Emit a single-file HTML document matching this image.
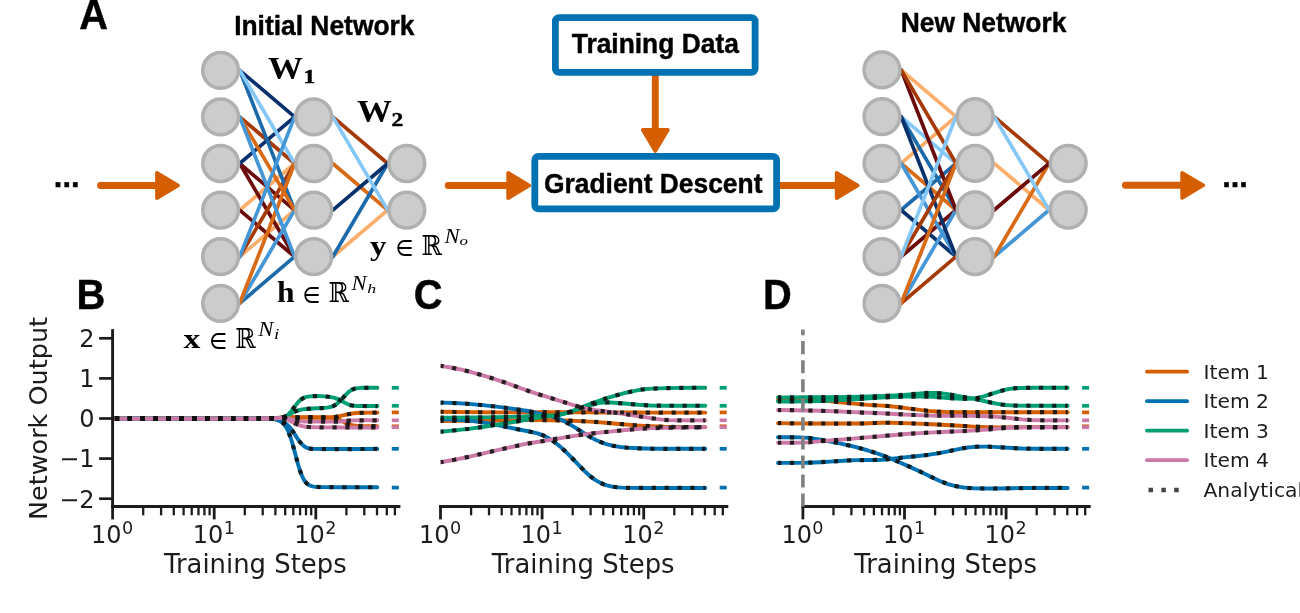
<!DOCTYPE html>
<html><head><meta charset="utf-8"><title>Figure</title>
<style>
html,body{margin:0;padding:0;background:#fff;}
svg{display:block}
.tk{font-family:"DejaVu Sans",sans-serif;font-size:24px;fill:#1c1c1c}
.lb{font-family:"DejaVu Sans",sans-serif;font-size:25.9px;fill:#1c1c1c}
.lg{font-family:"DejaVu Sans",sans-serif;font-size:20.3px;fill:#1c1c1c}
.hd{font-family:"Liberation Sans",sans-serif;font-weight:bold;font-size:26.4px;fill:#000;stroke:#000;stroke-width:0.4px}
.pn{font-family:"Liberation Sans",sans-serif;font-weight:bold;font-size:41.5px;fill:#000;stroke:#000;stroke-width:0.4px}
.mb{font-family:"Liberation Serif","DejaVu Serif",serif;font-weight:bold;fill:#000}
.mi{font-family:"Liberation Serif","DejaVu Serif",serif;font-style:italic;fill:#000}
.ms{font-family:"DejaVu Math TeX Gyre","DejaVu Serif",serif;fill:#000}
</style></head><body>
<svg width="1300" height="613" viewBox="0 0 1300 613">
<rect width="1300" height="613" fill="#fff"/>
<text transform="translate(79.3,28.7) scale(0.96,1.03)" class="pn">A</text>
<text transform="translate(76.4,308.8) scale(0.96,1.03)" class="pn">B</text>
<text transform="translate(413.7,308.9) scale(0.96,1.03)" class="pn">C</text>
<text transform="translate(762.9,308.8) scale(0.96,1.03)" class="pn">D</text>
<text transform="translate(324.3,34.5) scale(1,1.03)" class="hd" text-anchor="middle">Initial Network</text>
<text transform="translate(983.5,32.0) scale(1,1.03)" class="hd" text-anchor="middle">New Network</text>
<text transform="translate(53.85,187.1) scale(1,1.03)" class="hd" style="font-size:30.75px">...</text>
<text transform="translate(1222.15,186.9) scale(1,1.03)" class="hd" style="font-size:30.75px">...</text>
<g stroke-width="3.7" stroke-linecap="round" fill="none"><line x1="239.7" y1="210.1" x2="294.6" y2="163.5" stroke="#fdae6b"/><line x1="239.7" y1="256.7" x2="294.6" y2="210.1" stroke="#fdae6b"/><line x1="239.7" y1="163.5" x2="294.6" y2="210.1" stroke="#6b0a0a"/><line x1="239.7" y1="163.5" x2="294.6" y2="256.7" stroke="#6b0a0a"/><line x1="239.7" y1="210.1" x2="294.6" y2="256.7" stroke="#6b0a0a"/><line x1="239.7" y1="116.9" x2="294.6" y2="163.5" stroke="#a63a06"/><line x1="239.7" y1="256.7" x2="294.6" y2="163.5" stroke="#a63a06"/><line x1="239.7" y1="70.3" x2="294.6" y2="116.9" stroke="#08306b"/><line x1="239.7" y1="163.5" x2="294.6" y2="116.9" stroke="#08306b"/><line x1="239.7" y1="70.3" x2="294.6" y2="210.1" stroke="#1c6aaa"/><line x1="239.7" y1="303.3" x2="294.6" y2="256.7" stroke="#1c6aaa"/><line x1="239.7" y1="70.3" x2="294.6" y2="163.5" stroke="#85c8f8"/><line x1="239.7" y1="303.3" x2="294.6" y2="210.1" stroke="#4596d6"/><line x1="239.7" y1="116.9" x2="294.6" y2="210.1" stroke="#d96a16"/><line x1="239.7" y1="303.3" x2="294.6" y2="163.5" stroke="#d96a16"/><line x1="239.7" y1="116.9" x2="294.6" y2="256.7" stroke="#4596d6"/><line x1="239.7" y1="256.7" x2="294.6" y2="116.9" stroke="#4596d6"/><line x1="332.8" y1="256.7" x2="387.7" y2="210.1" stroke="#fdae6b"/><line x1="332.8" y1="116.9" x2="387.7" y2="163.5" stroke="#a63a06"/><line x1="332.8" y1="163.5" x2="387.7" y2="210.1" stroke="#d96a16"/><line x1="332.8" y1="256.7" x2="387.7" y2="163.5" stroke="#1c6aaa"/><line x1="332.8" y1="210.1" x2="387.7" y2="163.5" stroke="#08306b"/><line x1="332.8" y1="116.9" x2="387.7" y2="210.1" stroke="#85c8f8"/></g>
<g fill="#cccccc" stroke="#b0b0b0" stroke-width="3.5"><circle cx="220.6" cy="70.3" r="17.9"/><circle cx="220.6" cy="116.9" r="17.9"/><circle cx="220.6" cy="163.5" r="17.9"/><circle cx="220.6" cy="210.1" r="17.9"/><circle cx="220.6" cy="256.7" r="17.9"/><circle cx="220.6" cy="303.3" r="17.9"/><circle cx="313.7" cy="116.9" r="17.9"/><circle cx="313.7" cy="163.5" r="17.9"/><circle cx="313.7" cy="210.1" r="17.9"/><circle cx="313.7" cy="256.7" r="17.9"/><circle cx="406.79999999999995" cy="163.5" r="17.9"/><circle cx="406.79999999999995" cy="210.1" r="17.9"/></g>
<g stroke-width="3.7" stroke-linecap="round" fill="none"><line x1="901.1" y1="163.3" x2="956.0" y2="116.6" stroke="#fdae6b"/><line x1="901.1" y1="69.9" x2="956.0" y2="116.6" stroke="#fdae6b"/><line x1="901.1" y1="116.6" x2="956.0" y2="163.3" stroke="#85c8f8"/><line x1="901.1" y1="256.7" x2="956.0" y2="210.0" stroke="#6b0a0a"/><line x1="901.1" y1="210.0" x2="956.0" y2="163.3" stroke="#1c6aaa"/><line x1="901.1" y1="163.3" x2="956.0" y2="210.0" stroke="#d96a16"/><line x1="901.1" y1="116.6" x2="956.0" y2="210.0" stroke="#1c6aaa"/><line x1="901.1" y1="210.0" x2="956.0" y2="256.7" stroke="#08306b"/><line x1="901.1" y1="163.3" x2="956.0" y2="256.7" stroke="#4596d6"/><line x1="901.1" y1="303.4" x2="956.0" y2="210.0" stroke="#4596d6"/><line x1="901.1" y1="116.6" x2="956.0" y2="256.7" stroke="#08306b"/><line x1="901.1" y1="69.9" x2="956.0" y2="210.0" stroke="#6b0a0a"/><line x1="901.1" y1="69.9" x2="956.0" y2="163.3" stroke="#a63a06"/><line x1="901.1" y1="256.7" x2="956.0" y2="163.3" stroke="#a63a06"/><line x1="901.1" y1="303.4" x2="956.0" y2="256.7" stroke="#a63a06"/><line x1="901.1" y1="303.4" x2="956.0" y2="163.3" stroke="#d96a16"/><line x1="901.1" y1="256.7" x2="956.0" y2="116.6" stroke="#85c8f8"/><line x1="994.2" y1="163.3" x2="1049.1" y2="210.0" stroke="#fdae6b"/><line x1="994.2" y1="256.7" x2="1049.1" y2="210.0" stroke="#4596d6"/><line x1="994.2" y1="256.7" x2="1049.1" y2="163.3" stroke="#d96a16"/><line x1="994.2" y1="116.6" x2="1049.1" y2="163.3" stroke="#a63a06"/><line x1="994.2" y1="210.0" x2="1049.1" y2="163.3" stroke="#6b0a0a"/><line x1="994.2" y1="116.6" x2="1049.1" y2="210.0" stroke="#85c8f8"/></g>
<g fill="#cccccc" stroke="#b0b0b0" stroke-width="3.5"><circle cx="882.0" cy="69.9" r="17.9"/><circle cx="882.0" cy="116.6" r="17.9"/><circle cx="882.0" cy="163.3" r="17.9"/><circle cx="882.0" cy="210.0" r="17.9"/><circle cx="882.0" cy="256.7" r="17.9"/><circle cx="882.0" cy="303.4" r="17.9"/><circle cx="975.1" cy="116.6" r="17.9"/><circle cx="975.1" cy="163.3" r="17.9"/><circle cx="975.1" cy="210.0" r="17.9"/><circle cx="975.1" cy="256.7" r="17.9"/><circle cx="1068.2" cy="163.3" r="17.9"/><circle cx="1068.2" cy="210.0" r="17.9"/></g>
<line x1="100.5" y1="185.5" x2="158.1" y2="185.5" stroke="#D55E00" stroke-width="6.9" stroke-linecap="round"/>
<path d="M156.9,172.9 L178.1,185.5 L156.9,198.1 Z" fill="#D55E00" stroke="#D55E00" stroke-width="3.6" stroke-linejoin="round"/>
<line x1="448.2" y1="185.5" x2="509.3" y2="185.5" stroke="#D55E00" stroke-width="6.9" stroke-linecap="round"/>
<path d="M508.1,172.9 L529.3,185.5 L508.1,198.1 Z" fill="#D55E00" stroke="#D55E00" stroke-width="3.6" stroke-linejoin="round"/>
<line x1="780.4" y1="185.5" x2="837.8" y2="185.5" stroke="#D55E00" stroke-width="6.9" stroke-linecap="round"/>
<path d="M836.6,172.9 L857.8,185.5 L836.6,198.1 Z" fill="#D55E00" stroke="#D55E00" stroke-width="3.6" stroke-linejoin="round"/>
<line x1="1125.4" y1="185.3" x2="1183.3" y2="185.3" stroke="#D55E00" stroke-width="6.9" stroke-linecap="round"/>
<path d="M1182.1,172.7 L1203.3,185.3 L1182.1,197.9 Z" fill="#D55E00" stroke="#D55E00" stroke-width="3.6" stroke-linejoin="round"/>
<line x1="655.3" y1="72" x2="655.3" y2="131.0" stroke="#D55E00" stroke-width="6.9"/>
<path d="M642.7,129.8 L655.3,151.0 L667.9,129.8 Z" fill="#D55E00" stroke="#D55E00" stroke-width="3.6" stroke-linejoin="round"/>
<rect x="555.4" y="17.7" width="199.7" height="54.6" rx="3.6" fill="#fff" stroke="#0072B2" stroke-width="6.8"/>
<rect x="534.8" y="156.4" width="241.8" height="52.45" rx="3.6" fill="#fff" stroke="#0072B2" stroke-width="6.8"/>
<text transform="translate(655.3,52.9) scale(1,1.03)" class="hd" text-anchor="middle">Training Data</text>
<text transform="translate(653.2,192.6) scale(1,1.03)" class="hd" text-anchor="middle">Gradient Descent</text>
<text class="mb" font-size="31.2" transform="translate(267.9,78.8) scale(1.12,1)">W</text>
<text class="mb" font-size="19.5" stroke="#000" stroke-width="0.5" transform="translate(303.6,83.3) scale(1.2,1)">1</text>
<text class="mb" font-size="31.2" transform="translate(356.9,121.5) scale(1.12,1)">W</text>
<text class="mb" font-size="19.5" stroke="#000" stroke-width="0.5" transform="translate(391.6,126.0) scale(1.2,1)">2</text>
<text class="mb" font-size="27.4" transform="translate(369.9,254.6) scale(1.2,1)">y</text>
<text class="ms" font-size="25.9" transform="translate(395.5,254.6) scale(0.86,1)">∈</text>
<text class="ms" font-size="27.4" transform="translate(420.8,254.6) scale(0.9,1)">ℝ</text>
<text class="mi" font-size="20.8" transform="translate(444.5,242.5) scale(1.09,1)">N</text>
<text class="mi" font-size="13.5" transform="translate(459.4,245.3) scale(1.25,1)">o</text>
<text class="mb" font-size="29.0" transform="translate(276.9,302.0) scale(1.09,1)">h</text>
<text class="ms" font-size="25.9" transform="translate(302.5,302.0) scale(0.86,1)">∈</text>
<text class="ms" font-size="27.4" transform="translate(327.8,302.0) scale(0.9,1)">ℝ</text>
<text class="mi" font-size="20.8" transform="translate(351.5,289.9) scale(1.09,1)">N</text>
<text class="mi" font-size="13.2" transform="translate(367.2,292.7) scale(1.35,1)">h</text>
<text class="mb" font-size="28.0" transform="translate(183.6,348.1) scale(1.2,1)">x</text>
<text class="ms" font-size="25.9" transform="translate(209.2,348.1) scale(0.86,1)">∈</text>
<text class="ms" font-size="27.4" transform="translate(234.5,348.1) scale(0.9,1)">ℝ</text>
<text class="mi" font-size="20.8" transform="translate(258.2,336.0) scale(1.09,1)">N</text>
<text class="mi" font-size="14.5" transform="translate(273.9,338.8) scale(1.3,1)">i</text>
<clipPath id="cb"><rect x="112.6" y="325" width="306.6" height="185"/></clipPath>
<g clip-path="url(#cb)" fill="none" stroke-width="3.9" stroke-linecap="round" stroke-linejoin="round">
<path d="M112.6,418.55 L126.6,418.55 L140.6,418.55 L154.6,418.55 L168.6,418.55 L182.6,418.55 L196.5,418.55 L210.5,418.55 L224.5,418.55 L238.5,418.55 L252.5,418.55 L266.5,418.52 L272.5,418.42 L274.5,418.30 L282.5,417.54 L296.5,417.25 L310.5,417.15 L324.5,417.09 L332.5,416.97 L334.5,416.86 L336.5,416.64 L338.4,416.31 L348.4,414.19 L352.4,413.48 L356.4,413.02 L360.4,412.78 L374.4,412.65 L377.4,412.65" stroke="#D55E00"/>
<path d="M112.6,418.45 L126.6,418.45 L140.6,418.45 L154.6,418.45 L168.6,418.45 L182.6,418.45 L196.5,418.45 L210.5,418.45 L224.5,418.45 L238.5,418.45 L252.5,418.45 L266.5,418.43 L272.5,418.35 L274.5,418.23 L280.5,417.66 L282.5,417.52 L286.5,417.44 L300.5,417.61 L314.5,417.72 L328.5,417.85 L332.5,417.98 L334.5,418.16 L336.5,418.52 L338.4,419.15 L340.4,420.09 L344.4,422.39 L346.4,423.36 L348.4,424.12 L350.4,424.68 L352.4,425.09 L354.4,425.39 L356.4,425.62 L360.4,425.88 L374.4,426.10 L377.4,426.11" stroke="#D55E00"/>
<path d="M112.6,418.60 L126.6,418.60 L140.6,418.60 L154.6,418.60 L168.5,418.60 L182.5,418.60 L196.5,418.60 L210.5,418.60 L224.5,418.60 L238.5,418.60 L252.5,418.60 L266.5,418.54 L270.4,418.60 L272.4,418.78 L274.4,419.15 L276.4,419.68 L280.4,420.90 L282.4,421.65 L284.4,422.67 L286.4,424.04 L288.4,425.84 L290.4,428.09 L292.4,430.74 L294.4,433.70 L296.4,436.83 L298.4,439.86 L300.4,442.56 L302.4,444.79 L304.4,446.47 L306.4,447.60 L308.4,448.30 L310.4,448.69 L312.4,448.88 L326.4,449.06 L340.4,449.06 L354.4,449.04 L368.4,448.98 L377.3,448.91" stroke="#0072B2"/>
<path d="M112.6,418.65 L126.6,418.65 L140.6,418.65 L154.6,418.65 L168.5,418.65 L182.5,418.65 L196.5,418.65 L210.5,418.65 L224.5,418.65 L238.5,418.65 L252.5,418.65 L266.5,418.58 L270.4,418.63 L272.4,418.80 L274.4,419.17 L276.4,419.72 L278.4,420.41 L280.4,421.30 L282.4,422.60 L284.4,424.60 L286.4,427.57 L288.4,431.69 L290.4,437.02 L292.4,443.45 L294.4,450.71 L296.4,458.26 L298.4,465.49 L300.4,471.80 L302.4,476.86 L304.4,480.58 L306.4,483.12 L308.4,484.73 L310.4,485.73 L312.4,486.35 L314.4,486.70 L316.4,486.89 L322.4,487.15 L336.4,487.24 L350.4,487.24 L364.4,487.24 L377.3,487.24" stroke="#0072B2"/>
<path d="M112.6,418.05 L126.6,418.05 L140.6,418.05 L154.6,418.05 L168.6,418.05 L182.6,418.05 L196.5,418.05 L210.5,418.05 L224.5,418.05 L238.5,418.05 L252.5,418.05 L266.5,418.11 L274.5,418.07 L278.5,417.88 L280.5,417.71 L282.5,417.41 L284.5,416.84 L286.5,415.84 L288.5,414.29 L290.5,412.16 L292.5,409.58 L294.5,406.82 L296.5,404.14 L298.5,401.77 L300.5,399.86 L302.5,398.48 L304.5,397.54 L306.5,396.95 L308.5,396.59 L310.5,396.35 L312.5,396.19 L316.5,396.04 L320.5,396.13 L324.5,396.39 L328.5,396.78 L330.5,397.06 L332.5,397.43 L334.5,397.91 L336.5,398.53 L338.4,399.34 L340.4,400.35 L344.4,402.57 L346.4,403.57 L348.4,404.43 L350.4,405.10 L352.4,405.54 L354.4,405.77 L358.4,405.96 L372.4,406.07 L377.4,406.07" stroke="#009E73"/>
<path d="M112.6,418.15 L126.6,418.15 L140.6,418.15 L154.6,418.15 L168.6,418.15 L182.6,418.15 L196.5,418.15 L210.5,418.15 L224.5,418.15 L238.5,418.15 L252.5,418.15 L266.5,418.19 L272.5,418.18 L276.5,418.05 L280.5,417.74 L282.5,417.44 L284.5,416.92 L286.5,416.10 L288.5,415.03 L292.5,412.70 L294.5,411.69 L296.5,410.87 L298.5,410.25 L300.5,409.78 L302.5,409.43 L306.5,408.96 L312.5,408.55 L322.5,408.03 L326.5,407.67 L328.5,407.39 L330.5,407.00 L332.5,406.40 L334.5,405.51 L336.5,404.23 L338.4,402.54 L340.4,400.57 L346.4,394.15 L348.4,392.24 L350.4,390.66 L352.4,389.48 L354.4,388.73 L356.4,388.32 L358.4,388.08 L362.4,387.82 L376.4,387.73 L377.4,387.73" stroke="#009E73"/>
<path d="M112.6,418.45 L126.6,418.45 L140.6,418.45 L154.6,418.45 L168.6,418.45 L182.6,418.45 L196.5,418.45 L210.5,418.45 L224.5,418.45 L238.5,418.45 L252.5,418.45 L266.5,418.43 L272.5,418.36 L276.5,418.13 L280.5,417.83 L282.5,417.76 L284.5,417.82 L286.5,418.07 L288.5,418.49 L294.5,420.10 L296.5,420.51 L298.5,420.85 L302.5,421.34 L304.5,421.50 L308.5,421.64 L322.5,421.66 L336.5,421.65 L338.4,421.60 L340.4,421.49 L348.4,420.65 L352.4,420.39 L366.4,420.28 L377.4,420.28" stroke="#CC79A7"/>
<path d="M112.6,418.60 L126.6,418.60 L140.6,418.60 L154.6,418.60 L168.6,418.60 L182.6,418.60 L196.5,418.60 L210.5,418.60 L224.5,418.60 L238.5,418.60 L252.5,418.60 L266.5,418.56 L272.5,418.48 L280.5,418.11 L282.5,418.14 L284.5,418.42 L286.5,419.08 L288.5,420.06 L292.5,422.28 L294.5,423.29 L296.5,424.17 L298.5,424.92 L300.5,425.57 L302.5,426.11 L304.5,426.52 L306.5,426.81 L308.5,426.99 L318.5,427.33 L332.5,427.42 L346.4,427.46 L360.4,427.48 L374.4,427.49 L377.4,427.49" stroke="#CC79A7"/>
</g>
<g clip-path="url(#cb)" fill="none" stroke="#111" stroke-opacity="0.88" stroke-width="4.2" stroke-dasharray="4.2 8.7" stroke-dashoffset="-2.3">
<path d="M112.6,418.55 L126.6,418.55 L140.6,418.55 L154.6,418.55 L168.6,418.55 L182.6,418.55 L196.5,418.55 L210.5,418.55 L224.5,418.55 L238.5,418.55 L252.5,418.55 L266.5,418.52 L272.5,418.42 L274.5,418.30 L282.5,417.54 L296.5,417.25 L310.5,417.15 L324.5,417.09 L332.5,416.97 L334.5,416.86 L336.5,416.64 L338.4,416.31 L348.4,414.19 L352.4,413.48 L356.4,413.02 L360.4,412.78 L374.4,412.65 L377.4,412.65"/>
<path d="M112.6,418.45 L126.6,418.45 L140.6,418.45 L154.6,418.45 L168.6,418.45 L182.6,418.45 L196.5,418.45 L210.5,418.45 L224.5,418.45 L238.5,418.45 L252.5,418.45 L266.5,418.43 L272.5,418.35 L274.5,418.23 L280.5,417.66 L282.5,417.52 L286.5,417.44 L300.5,417.61 L314.5,417.72 L328.5,417.85 L332.5,417.98 L334.5,418.16 L336.5,418.52 L338.4,419.15 L340.4,420.09 L344.4,422.39 L346.4,423.36 L348.4,424.12 L350.4,424.68 L352.4,425.09 L354.4,425.39 L356.4,425.62 L360.4,425.88 L374.4,426.10 L377.4,426.11"/>
<path d="M112.6,418.60 L126.6,418.60 L140.6,418.60 L154.6,418.60 L168.5,418.60 L182.5,418.60 L196.5,418.60 L210.5,418.60 L224.5,418.60 L238.5,418.60 L252.5,418.60 L266.5,418.54 L270.4,418.60 L272.4,418.78 L274.4,419.15 L276.4,419.68 L280.4,420.90 L282.4,421.65 L284.4,422.67 L286.4,424.04 L288.4,425.84 L290.4,428.09 L292.4,430.74 L294.4,433.70 L296.4,436.83 L298.4,439.86 L300.4,442.56 L302.4,444.79 L304.4,446.47 L306.4,447.60 L308.4,448.30 L310.4,448.69 L312.4,448.88 L326.4,449.06 L340.4,449.06 L354.4,449.04 L368.4,448.98 L377.3,448.91"/>
<path d="M112.6,418.65 L126.6,418.65 L140.6,418.65 L154.6,418.65 L168.5,418.65 L182.5,418.65 L196.5,418.65 L210.5,418.65 L224.5,418.65 L238.5,418.65 L252.5,418.65 L266.5,418.58 L270.4,418.63 L272.4,418.80 L274.4,419.17 L276.4,419.72 L278.4,420.41 L280.4,421.30 L282.4,422.60 L284.4,424.60 L286.4,427.57 L288.4,431.69 L290.4,437.02 L292.4,443.45 L294.4,450.71 L296.4,458.26 L298.4,465.49 L300.4,471.80 L302.4,476.86 L304.4,480.58 L306.4,483.12 L308.4,484.73 L310.4,485.73 L312.4,486.35 L314.4,486.70 L316.4,486.89 L322.4,487.15 L336.4,487.24 L350.4,487.24 L364.4,487.24 L377.3,487.24"/>
<path d="M112.6,418.05 L126.6,418.05 L140.6,418.05 L154.6,418.05 L168.6,418.05 L182.6,418.05 L196.5,418.05 L210.5,418.05 L224.5,418.05 L238.5,418.05 L252.5,418.05 L266.5,418.11 L274.5,418.07 L278.5,417.88 L280.5,417.71 L282.5,417.41 L284.5,416.84 L286.5,415.84 L288.5,414.29 L290.5,412.16 L292.5,409.58 L294.5,406.82 L296.5,404.14 L298.5,401.77 L300.5,399.86 L302.5,398.48 L304.5,397.54 L306.5,396.95 L308.5,396.59 L310.5,396.35 L312.5,396.19 L316.5,396.04 L320.5,396.13 L324.5,396.39 L328.5,396.78 L330.5,397.06 L332.5,397.43 L334.5,397.91 L336.5,398.53 L338.4,399.34 L340.4,400.35 L344.4,402.57 L346.4,403.57 L348.4,404.43 L350.4,405.10 L352.4,405.54 L354.4,405.77 L358.4,405.96 L372.4,406.07 L377.4,406.07"/>
<path d="M112.6,418.15 L126.6,418.15 L140.6,418.15 L154.6,418.15 L168.6,418.15 L182.6,418.15 L196.5,418.15 L210.5,418.15 L224.5,418.15 L238.5,418.15 L252.5,418.15 L266.5,418.19 L272.5,418.18 L276.5,418.05 L280.5,417.74 L282.5,417.44 L284.5,416.92 L286.5,416.10 L288.5,415.03 L292.5,412.70 L294.5,411.69 L296.5,410.87 L298.5,410.25 L300.5,409.78 L302.5,409.43 L306.5,408.96 L312.5,408.55 L322.5,408.03 L326.5,407.67 L328.5,407.39 L330.5,407.00 L332.5,406.40 L334.5,405.51 L336.5,404.23 L338.4,402.54 L340.4,400.57 L346.4,394.15 L348.4,392.24 L350.4,390.66 L352.4,389.48 L354.4,388.73 L356.4,388.32 L358.4,388.08 L362.4,387.82 L376.4,387.73 L377.4,387.73"/>
<path d="M112.6,418.45 L126.6,418.45 L140.6,418.45 L154.6,418.45 L168.6,418.45 L182.6,418.45 L196.5,418.45 L210.5,418.45 L224.5,418.45 L238.5,418.45 L252.5,418.45 L266.5,418.43 L272.5,418.36 L276.5,418.13 L280.5,417.83 L282.5,417.76 L284.5,417.82 L286.5,418.07 L288.5,418.49 L294.5,420.10 L296.5,420.51 L298.5,420.85 L302.5,421.34 L304.5,421.50 L308.5,421.64 L322.5,421.66 L336.5,421.65 L338.4,421.60 L340.4,421.49 L348.4,420.65 L352.4,420.39 L366.4,420.28 L377.4,420.28"/>
<path d="M112.6,418.60 L126.6,418.60 L140.6,418.60 L154.6,418.60 L168.6,418.60 L182.6,418.60 L196.5,418.60 L210.5,418.60 L224.5,418.60 L238.5,418.60 L252.5,418.60 L266.5,418.56 L272.5,418.48 L280.5,418.11 L282.5,418.14 L284.5,418.42 L286.5,419.08 L288.5,420.06 L292.5,422.28 L294.5,423.29 L296.5,424.17 L298.5,424.92 L300.5,425.57 L302.5,426.11 L304.5,426.52 L306.5,426.81 L308.5,426.99 L318.5,427.33 L332.5,427.42 L346.4,427.46 L360.4,427.48 L374.4,427.49 L377.4,427.49"/>
</g>
<g stroke-width="3.7">
<line x1="391.8" y1="412.4" x2="398.8" y2="412.4" stroke="#D55E00"/>
<line x1="391.8" y1="426.3" x2="398.8" y2="426.3" stroke="#D55E00"/>
<line x1="391.8" y1="448.8" x2="398.8" y2="448.8" stroke="#0072B2"/>
<line x1="391.8" y1="487.6" x2="398.8" y2="487.6" stroke="#0072B2"/>
<line x1="391.8" y1="387.8" x2="398.8" y2="387.8" stroke="#009E73"/>
<line x1="391.8" y1="405.8" x2="398.8" y2="405.8" stroke="#009E73"/>
<line x1="391.8" y1="420.3" x2="398.8" y2="420.3" stroke="#CC79A7"/>
<line x1="391.8" y1="427.2" x2="398.8" y2="427.2" stroke="#CC79A7"/>
</g>
<g stroke="#1c1c1c" fill="none">
<line x1="111.15" y1="506.5" x2="400.4" y2="506.5" stroke-width="2.9"/>
<line x1="112.6" y1="506.5" x2="112.6" y2="519.4" stroke-width="2.8"/>
<line x1="214.2" y1="506.5" x2="214.2" y2="519.4" stroke-width="2.8"/>
<line x1="315.8" y1="506.5" x2="315.8" y2="519.4" stroke-width="2.8"/>
<g stroke-width="2.3"><line x1="143.2" y1="506.5" x2="143.2" y2="515.3"/><line x1="161.1" y1="506.5" x2="161.1" y2="515.3"/><line x1="173.8" y1="506.5" x2="173.8" y2="515.3"/><line x1="183.6" y1="506.5" x2="183.6" y2="515.3"/><line x1="191.7" y1="506.5" x2="191.7" y2="515.3"/><line x1="198.5" y1="506.5" x2="198.5" y2="515.3"/><line x1="204.4" y1="506.5" x2="204.4" y2="515.3"/><line x1="209.6" y1="506.5" x2="209.6" y2="515.3"/><line x1="244.8" y1="506.5" x2="244.8" y2="515.3"/><line x1="262.7" y1="506.5" x2="262.7" y2="515.3"/><line x1="275.4" y1="506.5" x2="275.4" y2="515.3"/><line x1="285.2" y1="506.5" x2="285.2" y2="515.3"/><line x1="293.3" y1="506.5" x2="293.3" y2="515.3"/><line x1="300.1" y1="506.5" x2="300.1" y2="515.3"/><line x1="306.0" y1="506.5" x2="306.0" y2="515.3"/><line x1="311.2" y1="506.5" x2="311.2" y2="515.3"/><line x1="346.4" y1="506.5" x2="346.4" y2="515.3"/><line x1="364.3" y1="506.5" x2="364.3" y2="515.3"/><line x1="377.0" y1="506.5" x2="377.0" y2="515.3"/><line x1="386.8" y1="506.5" x2="386.8" y2="515.3"/><line x1="394.9" y1="506.5" x2="394.9" y2="515.3"/></g>
<line x1="112.6" y1="329.1" x2="112.6" y2="507.9" stroke-width="2.9"/>
<line x1="99.1" y1="338.3" x2="112.6" y2="338.3" stroke-width="2.7"/>
<line x1="99.1" y1="378.4" x2="112.6" y2="378.4" stroke-width="2.7"/>
<line x1="99.1" y1="418.5" x2="112.6" y2="418.5" stroke-width="2.7"/>
<line x1="99.1" y1="458.6" x2="112.6" y2="458.6" stroke-width="2.7"/>
<line x1="99.1" y1="498.7" x2="112.6" y2="498.7" stroke-width="2.7"/>
</g>
<text x="91.1" y="542.7" class="tk">10<tspan dy="-9.0" dx="0.4" font-size="17.6">0</tspan></text>
<text x="192.7" y="542.7" class="tk">10<tspan dy="-9.0" dx="0.4" font-size="17.6">1</tspan></text>
<text x="294.3" y="542.7" class="tk">10<tspan dy="-9.0" dx="0.4" font-size="17.6">2</tspan></text>
<text x="255.3" y="572.6" class="lb" text-anchor="middle">Training Steps</text>
<text x="94.6" y="347.1" class="tk" text-anchor="end">2</text>
<text x="94.6" y="387.2" class="tk" text-anchor="end">1</text>
<text x="94.6" y="427.3" class="tk" text-anchor="end">0</text>
<text x="94.6" y="467.4" class="tk" text-anchor="end">−1</text>
<text x="94.6" y="507.5" class="tk" text-anchor="end">−2</text>
<text transform="translate(46.5,418.5) rotate(-90)" class="lb" style="font-size:25.5px" text-anchor="middle">Network Output</text>
<clipPath id="cc"><rect x="440.5" y="325" width="306.6" height="185"/></clipPath>
<g clip-path="url(#cc)" fill="none" stroke-width="3.9" stroke-linecap="round" stroke-linejoin="round">
<path d="M440.5,411.77 L454.5,411.99 L468.5,412.16 L482.5,412.27 L496.4,412.33 L510.4,412.35 L524.4,412.30 L538.4,412.21 L552.4,412.22 L566.4,412.26 L580.4,412.32 L594.4,412.38 L608.4,412.43 L622.4,412.49 L636.3,412.54 L650.3,412.58 L664.3,412.59 L678.3,412.59 L692.3,412.59 L705.3,412.59" stroke="#D55E00"/>
<path d="M440.5,420.97 L454.5,420.89 L468.5,420.80 L482.5,420.68 L496.4,420.55 L510.4,420.35 L524.4,420.15 L538.4,420.05 L552.4,420.18 L566.4,420.56 L580.4,421.09 L594.4,421.91 L608.4,422.97 L622.4,424.20 L636.3,425.36 L650.3,426.16 L664.3,426.81 L678.3,427.07 L692.3,427.08 L705.3,427.08" stroke="#D55E00"/>
<path d="M440.5,402.59 L454.5,403.06 L468.5,403.87 L482.5,405.13 L496.4,406.68 L510.4,408.45 L522.4,410.09 L526.4,410.74 L530.4,411.52 L542.4,414.43 L550.4,416.18 L552.4,416.67 L554.4,417.23 L556.4,417.87 L558.4,418.60 L560.4,419.43 L562.4,420.34 L564.4,421.35 L568.4,423.55 L572.4,425.93 L584.4,433.47 L588.4,435.88 L592.4,438.13 L594.4,439.17 L596.4,440.15 L598.4,441.07 L600.4,441.92 L602.4,442.69 L604.4,443.40 L606.4,444.04 L608.4,444.62 L612.4,445.60 L616.4,446.36 L620.4,446.96 L626.3,447.59 L638.3,448.31 L652.3,448.73 L666.3,448.80 L680.3,448.81 L694.3,448.81 L705.3,448.81" stroke="#0072B2"/>
<path d="M440.5,419.25 L452.5,419.57 L464.5,420.27 L472.5,421.03 L480.5,422.08 L488.4,423.40 L502.4,426.21 L516.4,429.03 L530.4,431.74 L534.4,432.61 L536.4,433.12 L538.4,433.70 L540.4,434.36 L542.4,435.12 L544.4,435.99 L546.4,436.97 L548.4,438.06 L550.4,439.26 L552.4,440.57 L554.4,441.99 L556.4,443.52 L558.4,445.14 L560.4,446.84 L562.4,448.62 L566.4,452.36 L570.4,456.31 L582.4,468.83 L584.4,470.84 L586.4,472.77 L588.4,474.60 L590.4,476.31 L592.4,477.89 L594.4,479.34 L596.4,480.65 L598.4,481.82 L600.4,482.85 L602.4,483.75 L604.4,484.53 L606.4,485.20 L608.4,485.76 L610.4,486.23 L612.4,486.62 L614.4,486.94 L618.4,487.39 L622.4,487.67 L630.3,487.92 L644.3,487.96 L658.3,487.96 L672.3,487.96 L686.3,487.96 L700.3,487.96 L705.3,487.96" stroke="#0072B2"/>
<path d="M440.5,431.73 L454.5,430.43 L468.5,428.89 L482.5,427.02 L496.4,424.74 L510.4,422.51 L520.4,420.93 L534.4,418.23 L538.4,417.54 L544.4,416.77 L552.4,415.90 L556.4,415.32 L560.4,414.53 L564.4,413.53 L568.4,412.34 L572.4,410.98 L578.4,408.69 L590.4,403.90 L600.4,400.27 L608.4,397.64 L616.4,395.27 L624.4,393.17 L632.3,391.31 L638.3,390.11 L642.3,389.47 L646.3,389.01 L652.3,388.60 L666.3,388.17 L680.3,387.91 L694.3,387.77 L705.3,387.73" stroke="#009E73"/>
<path d="M440.5,417.64 L454.5,417.61 L468.5,417.52 L482.5,417.38 L496.4,417.20 L510.4,416.88 L524.4,416.35 L536.4,415.74 L550.4,415.56 L554.4,415.38 L556.4,415.19 L558.4,414.92 L560.4,414.57 L562.4,414.13 L566.4,413.05 L572.4,411.11 L584.4,406.92 L588.4,405.65 L592.4,404.51 L596.4,403.55 L598.4,403.16 L600.4,402.85 L602.4,402.62 L604.4,402.47 L606.4,402.39 L610.4,402.45 L624.4,403.55 L638.3,404.75 L650.3,405.47 L664.3,405.73 L678.3,405.74 L692.3,405.74 L705.3,405.74" stroke="#009E73"/>
<path d="M440.5,365.80 L450.5,367.47 L460.5,369.47 L468.5,371.35 L476.5,373.51 L490.4,377.74 L504.4,382.30 L518.4,387.29 L528.4,390.94 L536.4,393.54 L550.4,397.86 L564.4,402.30 L576.4,406.00 L582.4,407.63 L586.4,408.56 L590.4,409.34 L596.4,410.28 L610.4,412.00 L624.4,413.98 L638.3,416.18 L652.3,418.31 L660.3,419.41 L664.3,419.85 L668.3,420.16 L674.3,420.37 L688.3,420.42 L702.3,420.42 L705.3,420.42" stroke="#CC79A7"/>
<path d="M440.5,462.27 L454.5,459.73 L468.5,456.86 L482.5,453.64 L496.4,450.40 L510.4,447.25 L524.4,444.20 L532.4,442.71 L546.4,440.52 L560.4,438.17 L574.4,435.88 L586.4,434.12 L600.4,432.50 L614.4,431.15 L628.3,429.78 L640.3,428.72 L652.3,428.13 L666.3,427.76 L680.3,427.49 L694.3,427.32 L705.3,427.28" stroke="#CC79A7"/>
</g>
<g clip-path="url(#cc)" fill="none" stroke="#111" stroke-opacity="0.88" stroke-width="4.2" stroke-dasharray="4.2 8.7" stroke-dashoffset="1.1">
<path d="M440.5,411.77 L454.5,411.99 L468.5,412.16 L482.5,412.27 L496.4,412.33 L510.4,412.35 L524.4,412.30 L538.4,412.21 L552.4,412.22 L566.4,412.26 L580.4,412.32 L594.4,412.38 L608.4,412.43 L622.4,412.49 L636.3,412.54 L650.3,412.58 L664.3,412.59 L678.3,412.59 L692.3,412.59 L705.3,412.59"/>
<path d="M440.5,420.97 L454.5,420.89 L468.5,420.80 L482.5,420.68 L496.4,420.55 L510.4,420.35 L524.4,420.15 L538.4,420.05 L552.4,420.18 L566.4,420.56 L580.4,421.09 L594.4,421.91 L608.4,422.97 L622.4,424.20 L636.3,425.36 L650.3,426.16 L664.3,426.81 L678.3,427.07 L692.3,427.08 L705.3,427.08"/>
<path d="M440.5,402.59 L454.5,403.06 L468.5,403.87 L482.5,405.13 L496.4,406.68 L510.4,408.45 L522.4,410.09 L526.4,410.74 L530.4,411.52 L542.4,414.43 L550.4,416.18 L552.4,416.67 L554.4,417.23 L556.4,417.87 L558.4,418.60 L560.4,419.43 L562.4,420.34 L564.4,421.35 L568.4,423.55 L572.4,425.93 L584.4,433.47 L588.4,435.88 L592.4,438.13 L594.4,439.17 L596.4,440.15 L598.4,441.07 L600.4,441.92 L602.4,442.69 L604.4,443.40 L606.4,444.04 L608.4,444.62 L612.4,445.60 L616.4,446.36 L620.4,446.96 L626.3,447.59 L638.3,448.31 L652.3,448.73 L666.3,448.80 L680.3,448.81 L694.3,448.81 L705.3,448.81"/>
<path d="M440.5,419.25 L452.5,419.57 L464.5,420.27 L472.5,421.03 L480.5,422.08 L488.4,423.40 L502.4,426.21 L516.4,429.03 L530.4,431.74 L534.4,432.61 L536.4,433.12 L538.4,433.70 L540.4,434.36 L542.4,435.12 L544.4,435.99 L546.4,436.97 L548.4,438.06 L550.4,439.26 L552.4,440.57 L554.4,441.99 L556.4,443.52 L558.4,445.14 L560.4,446.84 L562.4,448.62 L566.4,452.36 L570.4,456.31 L582.4,468.83 L584.4,470.84 L586.4,472.77 L588.4,474.60 L590.4,476.31 L592.4,477.89 L594.4,479.34 L596.4,480.65 L598.4,481.82 L600.4,482.85 L602.4,483.75 L604.4,484.53 L606.4,485.20 L608.4,485.76 L610.4,486.23 L612.4,486.62 L614.4,486.94 L618.4,487.39 L622.4,487.67 L630.3,487.92 L644.3,487.96 L658.3,487.96 L672.3,487.96 L686.3,487.96 L700.3,487.96 L705.3,487.96"/>
<path d="M440.5,431.73 L454.5,430.43 L468.5,428.89 L482.5,427.02 L496.4,424.74 L510.4,422.51 L520.4,420.93 L534.4,418.23 L538.4,417.54 L544.4,416.77 L552.4,415.90 L556.4,415.32 L560.4,414.53 L564.4,413.53 L568.4,412.34 L572.4,410.98 L578.4,408.69 L590.4,403.90 L600.4,400.27 L608.4,397.64 L616.4,395.27 L624.4,393.17 L632.3,391.31 L638.3,390.11 L642.3,389.47 L646.3,389.01 L652.3,388.60 L666.3,388.17 L680.3,387.91 L694.3,387.77 L705.3,387.73"/>
<path d="M440.5,417.64 L454.5,417.61 L468.5,417.52 L482.5,417.38 L496.4,417.20 L510.4,416.88 L524.4,416.35 L536.4,415.74 L550.4,415.56 L554.4,415.38 L556.4,415.19 L558.4,414.92 L560.4,414.57 L562.4,414.13 L566.4,413.05 L572.4,411.11 L584.4,406.92 L588.4,405.65 L592.4,404.51 L596.4,403.55 L598.4,403.16 L600.4,402.85 L602.4,402.62 L604.4,402.47 L606.4,402.39 L610.4,402.45 L624.4,403.55 L638.3,404.75 L650.3,405.47 L664.3,405.73 L678.3,405.74 L692.3,405.74 L705.3,405.74"/>
<path d="M440.5,365.80 L450.5,367.47 L460.5,369.47 L468.5,371.35 L476.5,373.51 L490.4,377.74 L504.4,382.30 L518.4,387.29 L528.4,390.94 L536.4,393.54 L550.4,397.86 L564.4,402.30 L576.4,406.00 L582.4,407.63 L586.4,408.56 L590.4,409.34 L596.4,410.28 L610.4,412.00 L624.4,413.98 L638.3,416.18 L652.3,418.31 L660.3,419.41 L664.3,419.85 L668.3,420.16 L674.3,420.37 L688.3,420.42 L702.3,420.42 L705.3,420.42"/>
<path d="M440.5,462.27 L454.5,459.73 L468.5,456.86 L482.5,453.64 L496.4,450.40 L510.4,447.25 L524.4,444.20 L532.4,442.71 L546.4,440.52 L560.4,438.17 L574.4,435.88 L586.4,434.12 L600.4,432.50 L614.4,431.15 L628.3,429.78 L640.3,428.72 L652.3,428.13 L666.3,427.76 L680.3,427.49 L694.3,427.32 L705.3,427.28"/>
</g>
<g stroke-width="3.7">
<line x1="719.7" y1="412.4" x2="726.7" y2="412.4" stroke="#D55E00"/>
<line x1="719.7" y1="426.3" x2="726.7" y2="426.3" stroke="#D55E00"/>
<line x1="719.7" y1="448.8" x2="726.7" y2="448.8" stroke="#0072B2"/>
<line x1="719.7" y1="487.6" x2="726.7" y2="487.6" stroke="#0072B2"/>
<line x1="719.7" y1="387.8" x2="726.7" y2="387.8" stroke="#009E73"/>
<line x1="719.7" y1="405.8" x2="726.7" y2="405.8" stroke="#009E73"/>
<line x1="719.7" y1="420.3" x2="726.7" y2="420.3" stroke="#CC79A7"/>
<line x1="719.7" y1="427.2" x2="726.7" y2="427.2" stroke="#CC79A7"/>
</g>
<g stroke="#1c1c1c" fill="none">
<line x1="439.05" y1="506.5" x2="728.3" y2="506.5" stroke-width="2.9"/>
<line x1="440.5" y1="506.5" x2="440.5" y2="519.4" stroke-width="2.8"/>
<line x1="542.1" y1="506.5" x2="542.1" y2="519.4" stroke-width="2.8"/>
<line x1="643.7" y1="506.5" x2="643.7" y2="519.4" stroke-width="2.8"/>
<g stroke-width="2.3"><line x1="471.1" y1="506.5" x2="471.1" y2="515.3"/><line x1="489.0" y1="506.5" x2="489.0" y2="515.3"/><line x1="501.7" y1="506.5" x2="501.7" y2="515.3"/><line x1="511.5" y1="506.5" x2="511.5" y2="515.3"/><line x1="519.6" y1="506.5" x2="519.6" y2="515.3"/><line x1="526.4" y1="506.5" x2="526.4" y2="515.3"/><line x1="532.3" y1="506.5" x2="532.3" y2="515.3"/><line x1="537.5" y1="506.5" x2="537.5" y2="515.3"/><line x1="572.7" y1="506.5" x2="572.7" y2="515.3"/><line x1="590.6" y1="506.5" x2="590.6" y2="515.3"/><line x1="603.3" y1="506.5" x2="603.3" y2="515.3"/><line x1="613.1" y1="506.5" x2="613.1" y2="515.3"/><line x1="621.2" y1="506.5" x2="621.2" y2="515.3"/><line x1="628.0" y1="506.5" x2="628.0" y2="515.3"/><line x1="633.9" y1="506.5" x2="633.9" y2="515.3"/><line x1="639.1" y1="506.5" x2="639.1" y2="515.3"/><line x1="674.3" y1="506.5" x2="674.3" y2="515.3"/><line x1="692.2" y1="506.5" x2="692.2" y2="515.3"/><line x1="704.9" y1="506.5" x2="704.9" y2="515.3"/><line x1="714.7" y1="506.5" x2="714.7" y2="515.3"/><line x1="722.8" y1="506.5" x2="722.8" y2="515.3"/></g>
</g>
<text x="419.0" y="542.7" class="tk">10<tspan dy="-9.0" dx="0.4" font-size="17.6">0</tspan></text>
<text x="520.6" y="542.7" class="tk">10<tspan dy="-9.0" dx="0.4" font-size="17.6">1</tspan></text>
<text x="622.2" y="542.7" class="tk">10<tspan dy="-9.0" dx="0.4" font-size="17.6">2</tspan></text>
<text x="583.2" y="572.6" class="lb" text-anchor="middle">Training Steps</text>
<clipPath id="cd"><rect x="770" y="325" width="339.5" height="185"/></clipPath>
<g clip-path="url(#cd)" fill="none" stroke-width="3.9" stroke-linecap="round" stroke-linejoin="round">
<path d="M778.0,399.69 L792.0,399.77 L806.0,399.98 L818.0,400.36 L826.0,400.91 L840.0,402.32 L853.9,403.64 L867.9,404.88 L881.9,405.62 L887.9,406.02 L901.9,407.61 L915.9,409.41 L927.9,410.82 L935.9,411.51 L945.8,411.97 L959.8,412.18 L973.8,412.20 L987.8,412.20 L1001.8,412.20 L1015.8,412.20 L1029.8,412.20 L1043.7,412.20 L1057.7,412.20 L1067.7,412.20" stroke="#D55E00"/>
<path d="M778.0,423.17 L792.0,423.33 L806.0,423.43 L820.0,423.50 L834.0,423.54 L848.0,423.56 L861.9,423.51 L875.9,422.98 L881.9,422.77 L889.9,422.77 L903.9,423.17 L917.9,423.66 L931.9,424.23 L945.8,424.95 L959.8,425.81 L973.8,426.58 L987.8,427.21 L999.8,427.38 L1013.8,427.26 L1027.8,427.17 L1041.7,427.12 L1055.7,427.09 L1067.7,427.08" stroke="#D55E00"/>
<path d="M778.0,437.27 L792.0,437.28 L800.0,437.40 L804.0,437.58 L808.0,437.91 L812.0,438.38 L822.0,439.98 L836.0,442.65 L850.0,445.72 L859.9,448.23 L867.9,450.50 L875.9,453.02 L881.9,455.10 L887.9,457.38 L895.9,460.70 L909.9,466.86 L919.9,471.42 L933.9,478.20 L939.9,480.93 L943.9,482.57 L947.8,484.01 L951.8,485.21 L955.8,486.18 L959.8,486.94 L963.8,487.51 L967.8,487.92 L973.8,488.30 L983.8,488.52 L997.8,488.46 L1011.8,488.21 L1025.8,488.00 L1039.8,487.96 L1053.7,487.96 L1067.7,487.96" stroke="#0072B2"/>
<path d="M778.0,462.92 L792.0,462.91 L806.0,462.80 L820.0,462.24 L834.0,461.37 L848.0,460.44 L855.9,460.12 L869.9,460.06 L877.9,459.96 L881.9,459.77 L887.9,459.25 L901.9,457.66 L915.9,456.21 L927.9,454.88 L935.9,453.69 L945.8,451.81 L959.8,448.84 L963.8,448.11 L967.8,447.52 L971.8,447.07 L975.8,446.77 L979.8,446.61 L985.8,446.59 L993.8,446.89 L1007.8,447.74 L1021.8,448.50 L1035.8,448.79 L1049.7,448.81 L1063.7,448.81 L1067.7,448.81" stroke="#0072B2"/>
<path d="M778.0,397.33 L792.0,397.33 L806.0,397.32 L820.0,397.22 L834.0,397.08 L848.0,396.90 L861.9,396.65 L875.9,396.26 L889.9,395.70 L903.9,394.89 L917.9,393.63 L923.9,393.13 L927.9,392.93 L931.9,392.88 L935.9,392.98 L939.9,393.23 L943.9,393.63 L947.8,394.19 L961.8,396.61 L971.8,398.33 L977.8,399.55 L991.8,402.73 L997.8,403.88 L1001.8,404.49 L1005.8,404.97 L1009.8,405.31 L1015.8,405.60 L1029.8,405.73 L1043.7,405.74 L1057.7,405.74 L1067.7,405.74" stroke="#009E73"/>
<path d="M778.0,401.44 L792.0,401.44 L806.0,401.37 L820.0,401.00 L834.0,400.42 L848.0,399.69 L861.9,398.79 L875.9,397.81 L889.9,397.08 L903.9,396.64 L917.9,396.55 L927.9,396.66 L933.9,396.90 L947.8,398.02 L955.8,398.59 L961.8,398.79 L967.8,398.77 L971.8,398.56 L973.8,398.37 L975.8,398.10 L977.8,397.76 L979.8,397.34 L983.8,396.30 L997.8,391.86 L1001.8,390.68 L1005.8,389.69 L1007.8,389.28 L1011.8,388.63 L1015.8,388.21 L1019.8,387.96 L1033.8,387.73 L1047.7,387.73 L1061.7,387.73 L1067.7,387.73" stroke="#009E73"/>
<path d="M778.0,410.07 L792.0,410.19 L806.0,410.45 L820.0,410.80 L834.0,411.26 L848.0,411.91 L861.9,412.53 L875.9,413.04 L889.9,413.70 L903.9,414.46 L917.9,415.11 L931.9,415.58 L945.8,415.71 L959.8,415.72 L973.8,415.84 L987.8,416.29 L997.8,416.87 L1011.8,418.31 L1021.8,419.37 L1029.8,419.93 L1043.7,420.34 L1057.7,420.42 L1067.7,420.42" stroke="#CC79A7"/>
<path d="M778.0,442.75 L792.0,442.75 L802.0,442.62 L808.0,442.34 L822.0,441.17 L836.0,440.01 L850.0,438.83 L863.9,437.62 L877.9,436.44 L891.9,435.20 L905.9,434.03 L919.9,433.13 L933.9,432.41 L947.8,431.75 L961.8,431.10 L975.8,430.34 L989.8,429.40 L1003.8,428.13 L1009.8,427.70 L1017.8,427.44 L1031.8,427.34 L1045.7,427.29 L1059.7,427.28 L1067.7,427.27" stroke="#CC79A7"/>
</g>
<clipPath id="cda"><rect x="770" y="325" width="32.9" height="185"/></clipPath>
<clipPath id="cdb"><rect x="802.9" y="325" width="306.6" height="185"/></clipPath>
<g clip-path="url(#cda)" fill="none" stroke="#111" stroke-opacity="0.88" stroke-width="4.2" stroke-dasharray="4.2 8.7" stroke-dashoffset="1.0">
<path d="M778.0,399.69 L792.0,399.77 L806.0,399.98 L818.0,400.36 L826.0,400.91 L840.0,402.32 L853.9,403.64 L867.9,404.88 L881.9,405.62 L887.9,406.02 L901.9,407.61 L915.9,409.41 L927.9,410.82 L935.9,411.51 L945.8,411.97 L959.8,412.18 L973.8,412.20 L987.8,412.20 L1001.8,412.20 L1015.8,412.20 L1029.8,412.20 L1043.7,412.20 L1057.7,412.20 L1067.7,412.20"/>
<path d="M778.0,423.17 L792.0,423.33 L806.0,423.43 L820.0,423.50 L834.0,423.54 L848.0,423.56 L861.9,423.51 L875.9,422.98 L881.9,422.77 L889.9,422.77 L903.9,423.17 L917.9,423.66 L931.9,424.23 L945.8,424.95 L959.8,425.81 L973.8,426.58 L987.8,427.21 L999.8,427.38 L1013.8,427.26 L1027.8,427.17 L1041.7,427.12 L1055.7,427.09 L1067.7,427.08"/>
<path d="M778.0,437.27 L792.0,437.28 L800.0,437.40 L804.0,437.58 L808.0,437.91 L812.0,438.38 L822.0,439.98 L836.0,442.65 L850.0,445.72 L859.9,448.23 L867.9,450.50 L875.9,453.02 L881.9,455.10 L887.9,457.38 L895.9,460.70 L909.9,466.86 L919.9,471.42 L933.9,478.20 L939.9,480.93 L943.9,482.57 L947.8,484.01 L951.8,485.21 L955.8,486.18 L959.8,486.94 L963.8,487.51 L967.8,487.92 L973.8,488.30 L983.8,488.52 L997.8,488.46 L1011.8,488.21 L1025.8,488.00 L1039.8,487.96 L1053.7,487.96 L1067.7,487.96"/>
<path d="M778.0,462.92 L792.0,462.91 L806.0,462.80 L820.0,462.24 L834.0,461.37 L848.0,460.44 L855.9,460.12 L869.9,460.06 L877.9,459.96 L881.9,459.77 L887.9,459.25 L901.9,457.66 L915.9,456.21 L927.9,454.88 L935.9,453.69 L945.8,451.81 L959.8,448.84 L963.8,448.11 L967.8,447.52 L971.8,447.07 L975.8,446.77 L979.8,446.61 L985.8,446.59 L993.8,446.89 L1007.8,447.74 L1021.8,448.50 L1035.8,448.79 L1049.7,448.81 L1063.7,448.81 L1067.7,448.81"/>
<path d="M778.0,397.33 L792.0,397.33 L806.0,397.32 L820.0,397.22 L834.0,397.08 L848.0,396.90 L861.9,396.65 L875.9,396.26 L889.9,395.70 L903.9,394.89 L917.9,393.63 L923.9,393.13 L927.9,392.93 L931.9,392.88 L935.9,392.98 L939.9,393.23 L943.9,393.63 L947.8,394.19 L961.8,396.61 L971.8,398.33 L977.8,399.55 L991.8,402.73 L997.8,403.88 L1001.8,404.49 L1005.8,404.97 L1009.8,405.31 L1015.8,405.60 L1029.8,405.73 L1043.7,405.74 L1057.7,405.74 L1067.7,405.74"/>
<path d="M778.0,401.44 L792.0,401.44 L806.0,401.37 L820.0,401.00 L834.0,400.42 L848.0,399.69 L861.9,398.79 L875.9,397.81 L889.9,397.08 L903.9,396.64 L917.9,396.55 L927.9,396.66 L933.9,396.90 L947.8,398.02 L955.8,398.59 L961.8,398.79 L967.8,398.77 L971.8,398.56 L973.8,398.37 L975.8,398.10 L977.8,397.76 L979.8,397.34 L983.8,396.30 L997.8,391.86 L1001.8,390.68 L1005.8,389.69 L1007.8,389.28 L1011.8,388.63 L1015.8,388.21 L1019.8,387.96 L1033.8,387.73 L1047.7,387.73 L1061.7,387.73 L1067.7,387.73"/>
<path d="M778.0,410.07 L792.0,410.19 L806.0,410.45 L820.0,410.80 L834.0,411.26 L848.0,411.91 L861.9,412.53 L875.9,413.04 L889.9,413.70 L903.9,414.46 L917.9,415.11 L931.9,415.58 L945.8,415.71 L959.8,415.72 L973.8,415.84 L987.8,416.29 L997.8,416.87 L1011.8,418.31 L1021.8,419.37 L1029.8,419.93 L1043.7,420.34 L1057.7,420.42 L1067.7,420.42"/>
<path d="M778.0,442.75 L792.0,442.75 L802.0,442.62 L808.0,442.34 L822.0,441.17 L836.0,440.01 L850.0,438.83 L863.9,437.62 L877.9,436.44 L891.9,435.20 L905.9,434.03 L919.9,433.13 L933.9,432.41 L947.8,431.75 L961.8,431.10 L975.8,430.34 L989.8,429.40 L1003.8,428.13 L1009.8,427.70 L1017.8,427.44 L1031.8,427.34 L1045.7,427.29 L1059.7,427.28 L1067.7,427.27"/>
</g>
<g clip-path="url(#cdb)" fill="none" stroke="#111" stroke-opacity="0.88" stroke-width="4.2" stroke-dasharray="4.2 8.7" stroke-dashoffset="8.4">
<path d="M778.0,399.69 L792.0,399.77 L806.0,399.98 L818.0,400.36 L826.0,400.91 L840.0,402.32 L853.9,403.64 L867.9,404.88 L881.9,405.62 L887.9,406.02 L901.9,407.61 L915.9,409.41 L927.9,410.82 L935.9,411.51 L945.8,411.97 L959.8,412.18 L973.8,412.20 L987.8,412.20 L1001.8,412.20 L1015.8,412.20 L1029.8,412.20 L1043.7,412.20 L1057.7,412.20 L1067.7,412.20"/>
<path d="M778.0,423.17 L792.0,423.33 L806.0,423.43 L820.0,423.50 L834.0,423.54 L848.0,423.56 L861.9,423.51 L875.9,422.98 L881.9,422.77 L889.9,422.77 L903.9,423.17 L917.9,423.66 L931.9,424.23 L945.8,424.95 L959.8,425.81 L973.8,426.58 L987.8,427.21 L999.8,427.38 L1013.8,427.26 L1027.8,427.17 L1041.7,427.12 L1055.7,427.09 L1067.7,427.08"/>
<path d="M778.0,437.27 L792.0,437.28 L800.0,437.40 L804.0,437.58 L808.0,437.91 L812.0,438.38 L822.0,439.98 L836.0,442.65 L850.0,445.72 L859.9,448.23 L867.9,450.50 L875.9,453.02 L881.9,455.10 L887.9,457.38 L895.9,460.70 L909.9,466.86 L919.9,471.42 L933.9,478.20 L939.9,480.93 L943.9,482.57 L947.8,484.01 L951.8,485.21 L955.8,486.18 L959.8,486.94 L963.8,487.51 L967.8,487.92 L973.8,488.30 L983.8,488.52 L997.8,488.46 L1011.8,488.21 L1025.8,488.00 L1039.8,487.96 L1053.7,487.96 L1067.7,487.96"/>
<path d="M778.0,462.92 L792.0,462.91 L806.0,462.80 L820.0,462.24 L834.0,461.37 L848.0,460.44 L855.9,460.12 L869.9,460.06 L877.9,459.96 L881.9,459.77 L887.9,459.25 L901.9,457.66 L915.9,456.21 L927.9,454.88 L935.9,453.69 L945.8,451.81 L959.8,448.84 L963.8,448.11 L967.8,447.52 L971.8,447.07 L975.8,446.77 L979.8,446.61 L985.8,446.59 L993.8,446.89 L1007.8,447.74 L1021.8,448.50 L1035.8,448.79 L1049.7,448.81 L1063.7,448.81 L1067.7,448.81"/>
<path d="M778.0,397.33 L792.0,397.33 L806.0,397.32 L820.0,397.22 L834.0,397.08 L848.0,396.90 L861.9,396.65 L875.9,396.26 L889.9,395.70 L903.9,394.89 L917.9,393.63 L923.9,393.13 L927.9,392.93 L931.9,392.88 L935.9,392.98 L939.9,393.23 L943.9,393.63 L947.8,394.19 L961.8,396.61 L971.8,398.33 L977.8,399.55 L991.8,402.73 L997.8,403.88 L1001.8,404.49 L1005.8,404.97 L1009.8,405.31 L1015.8,405.60 L1029.8,405.73 L1043.7,405.74 L1057.7,405.74 L1067.7,405.74"/>
<path d="M778.0,401.44 L792.0,401.44 L806.0,401.37 L820.0,401.00 L834.0,400.42 L848.0,399.69 L861.9,398.79 L875.9,397.81 L889.9,397.08 L903.9,396.64 L917.9,396.55 L927.9,396.66 L933.9,396.90 L947.8,398.02 L955.8,398.59 L961.8,398.79 L967.8,398.77 L971.8,398.56 L973.8,398.37 L975.8,398.10 L977.8,397.76 L979.8,397.34 L983.8,396.30 L997.8,391.86 L1001.8,390.68 L1005.8,389.69 L1007.8,389.28 L1011.8,388.63 L1015.8,388.21 L1019.8,387.96 L1033.8,387.73 L1047.7,387.73 L1061.7,387.73 L1067.7,387.73"/>
<path d="M778.0,410.07 L792.0,410.19 L806.0,410.45 L820.0,410.80 L834.0,411.26 L848.0,411.91 L861.9,412.53 L875.9,413.04 L889.9,413.70 L903.9,414.46 L917.9,415.11 L931.9,415.58 L945.8,415.71 L959.8,415.72 L973.8,415.84 L987.8,416.29 L997.8,416.87 L1011.8,418.31 L1021.8,419.37 L1029.8,419.93 L1043.7,420.34 L1057.7,420.42 L1067.7,420.42"/>
<path d="M778.0,442.75 L792.0,442.75 L802.0,442.62 L808.0,442.34 L822.0,441.17 L836.0,440.01 L850.0,438.83 L863.9,437.62 L877.9,436.44 L891.9,435.20 L905.9,434.03 L919.9,433.13 L933.9,432.41 L947.8,431.75 L961.8,431.10 L975.8,430.34 L989.8,429.40 L1003.8,428.13 L1009.8,427.70 L1017.8,427.44 L1031.8,427.34 L1045.7,427.29 L1059.7,427.28 L1067.7,427.27"/>
</g>
<g stroke-width="3.7">
<line x1="1082.1" y1="412.4" x2="1089.1" y2="412.4" stroke="#D55E00"/>
<line x1="1082.1" y1="426.3" x2="1089.1" y2="426.3" stroke="#D55E00"/>
<line x1="1082.1" y1="448.8" x2="1089.1" y2="448.8" stroke="#0072B2"/>
<line x1="1082.1" y1="487.6" x2="1089.1" y2="487.6" stroke="#0072B2"/>
<line x1="1082.1" y1="387.8" x2="1089.1" y2="387.8" stroke="#009E73"/>
<line x1="1082.1" y1="405.8" x2="1089.1" y2="405.8" stroke="#009E73"/>
<line x1="1082.1" y1="420.3" x2="1089.1" y2="420.3" stroke="#CC79A7"/>
<line x1="1082.1" y1="427.2" x2="1089.1" y2="427.2" stroke="#CC79A7"/>
</g>
<g stroke="#1c1c1c" fill="none">
<line x1="801.45" y1="506.5" x2="1090.7" y2="506.5" stroke-width="2.9"/>
<line x1="802.9" y1="506.5" x2="802.9" y2="519.4" stroke-width="2.8"/>
<line x1="904.5" y1="506.5" x2="904.5" y2="519.4" stroke-width="2.8"/>
<line x1="1006.1" y1="506.5" x2="1006.1" y2="519.4" stroke-width="2.8"/>
<g stroke-width="2.3"><line x1="833.5" y1="506.5" x2="833.5" y2="515.3"/><line x1="851.4" y1="506.5" x2="851.4" y2="515.3"/><line x1="864.1" y1="506.5" x2="864.1" y2="515.3"/><line x1="873.9" y1="506.5" x2="873.9" y2="515.3"/><line x1="882.0" y1="506.5" x2="882.0" y2="515.3"/><line x1="888.8" y1="506.5" x2="888.8" y2="515.3"/><line x1="894.7" y1="506.5" x2="894.7" y2="515.3"/><line x1="899.9" y1="506.5" x2="899.9" y2="515.3"/><line x1="935.1" y1="506.5" x2="935.1" y2="515.3"/><line x1="953.0" y1="506.5" x2="953.0" y2="515.3"/><line x1="965.7" y1="506.5" x2="965.7" y2="515.3"/><line x1="975.5" y1="506.5" x2="975.5" y2="515.3"/><line x1="983.6" y1="506.5" x2="983.6" y2="515.3"/><line x1="990.4" y1="506.5" x2="990.4" y2="515.3"/><line x1="996.3" y1="506.5" x2="996.3" y2="515.3"/><line x1="1001.5" y1="506.5" x2="1001.5" y2="515.3"/><line x1="1036.7" y1="506.5" x2="1036.7" y2="515.3"/><line x1="1054.6" y1="506.5" x2="1054.6" y2="515.3"/><line x1="1067.3" y1="506.5" x2="1067.3" y2="515.3"/><line x1="1077.1" y1="506.5" x2="1077.1" y2="515.3"/><line x1="1085.2" y1="506.5" x2="1085.2" y2="515.3"/></g>
</g>
<line x1="802.9" y1="506.6" x2="802.9" y2="329.6" stroke="#808080" stroke-width="3.6" stroke-dasharray="13.1 5.95"/>
<text x="781.4" y="542.7" class="tk">10<tspan dy="-9.0" dx="0.4" font-size="17.6">0</tspan></text>
<text x="883.0" y="542.7" class="tk">10<tspan dy="-9.0" dx="0.4" font-size="17.6">1</tspan></text>
<text x="984.6" y="542.7" class="tk">10<tspan dy="-9.0" dx="0.4" font-size="17.6">2</tspan></text>
<text x="945.6" y="572.6" class="lb" text-anchor="middle">Training Steps</text>
<line x1="1147" y1="371.7" x2="1187.1" y2="371.7" stroke="#D55E00" stroke-width="3.8" stroke-linecap="round"/>
<text x="1203.5" y="378.9" class="lg">Item 1</text>
<line x1="1147" y1="401.2" x2="1187.1" y2="401.2" stroke="#0072B2" stroke-width="3.8" stroke-linecap="round"/>
<text x="1203.5" y="408.4" class="lg">Item 2</text>
<line x1="1147" y1="430.7" x2="1187.1" y2="430.7" stroke="#009E73" stroke-width="3.8" stroke-linecap="round"/>
<text x="1203.5" y="437.9" class="lg">Item 3</text>
<line x1="1147" y1="460.2" x2="1187.1" y2="460.2" stroke="#CC79A7" stroke-width="3.8" stroke-linecap="round"/>
<text x="1203.5" y="467.4" class="lg">Item 4</text>
<line x1="1148.5" y1="490.0" x2="1186" y2="490.0" stroke="#444" stroke-width="4.4" stroke-dasharray="4.5 8.35"/>
<text x="1203.5" y="497.0" class="lg">Analytical</text>
</svg></body></html>
